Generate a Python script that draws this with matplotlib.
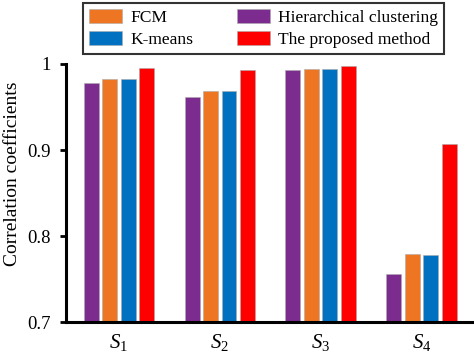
import numpy as np
import matplotlib.pyplot as plt

plt.rcParams['font.family'] = ['Liberation Serif', 'DejaVu Serif']
plt.rcParams['mathtext.fontset'] = 'custom'
plt.rcParams['mathtext.rm'] = 'Liberation Serif'
plt.rcParams['mathtext.it'] = 'Liberation Serif:italic'

# data
groups = [r'$S_1$', r'$S_2$', r'$S_3$', r'$S_4$']
hierarchical = [0.978, 0.962, 0.993, 0.756]
fcm = [0.982, 0.969, 0.994, 0.779]
kmeans = [0.982, 0.969, 0.994, 0.778]
proposed = [0.995, 0.993, 0.997, 0.907]

series = [
    ('Hierarchical clustering', hierarchical, '#7B2C8E'),
    ('FCM', fcm, '#EE7623'),
    ('K-means', kmeans, '#0070C0'),
    ('The proposed method', proposed, '#FF0000'),
]

fig = plt.figure(figsize=(4.74, 3.53), dpi=100)
ax = fig.add_axes([0.139, 0.087, 0.861, 0.732])

x = np.arange(len(groups))
step = 0.183
width = 0.148
bars = {}
for i, (name, vals, col) in enumerate(series):
    bars[name] = ax.bar(x + (i - 1.5) * step, vals, width, color=col,
                        edgecolor='#aaaaaa', linewidth=0.4, label=name)

ax.set_xlim(-0.525, 3.52)
ax.set_ylim(0.7, 1.0)
ax.set_yticks([0.7, 0.8, 0.9, 1.0])
ax.set_yticklabels(['0.7', '0.8', '0.9', '1'])
ax.set_xticks(x)
ax.set_xticklabels(groups)
ax.tick_params(axis='y', direction='out', length=4, width=2, labelsize=13.5, pad=7)
ax.tick_params(axis='x', length=0, labelsize=15, pad=7)
ax.set_ylabel('Correlation coefficients', fontsize=14)
ax.yaxis.set_label_coords(-0.11, 0.575)

for s in ['top', 'right']:
    ax.spines[s].set_visible(False)
for s in ['left', 'bottom']:
    ax.spines[s].set_linewidth(2.2)

order = ['FCM', 'K-means', 'Hierarchical clustering', 'The proposed method']
leg = fig.legend([bars[n] for n in order], order, ncol=2, loc='upper left',
                 bbox_to_anchor=(83 / 474, 1 - 3 / 353), borderaxespad=0,
                 fontsize=12.6, frameon=True, fancybox=False, edgecolor='black',
                 handlelength=1.9, handleheight=0.8, columnspacing=2.5,
                 handletextpad=0.45, labelspacing=0.3, borderpad=0.35)
leg.get_frame().set_linewidth(1.5)

fig.savefig('out.png', dpi=100)
